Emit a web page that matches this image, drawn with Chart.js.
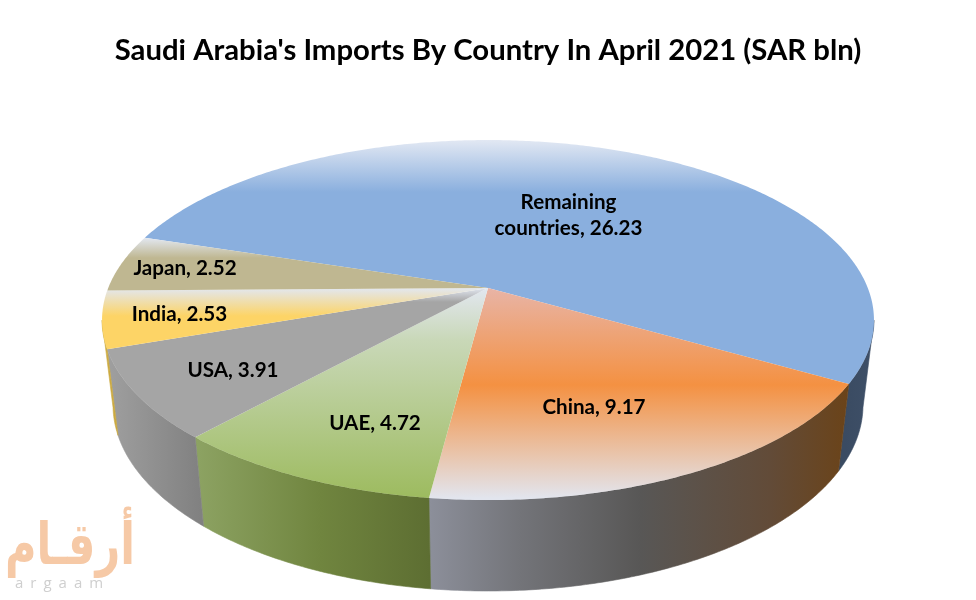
<!DOCTYPE html>
<html>
<head>
<meta charset="utf-8">
<style>html,body{margin:0;padding:0;background:#fff}canvas{display:block}</style>
<script src="https://cdn.jsdelivr.net/npm/chart.js@4"></script>
</head>
<body>
<canvas id="c" width="976" height="600"></canvas>
<script>
const titleText = "Saudi Arabia's Imports By Country In April 2021 (SAR bln)";
const categories = ["Remaining countries", "China", "UAE", "USA", "India", "Japan"];
const values = [26.23, 9.17, 4.72, 3.91, 2.53, 2.52];
const sliceColors = ["#8AAFDE", "#F49142", "#9DBB5F", "#A5A5A5", "#FDD466", "#BFB791"];

// Label placement (centre of each text block, px)
const labelLines = [["Remaining", "countries, 26.23"], ["China, 9.17"], ["UAE, 4.72"], ["USA, 3.91"], ["India, 2.53"], ["Japan, 2.52"]];
const labelCentres = [[568.5, 215], [594, 407], [375, 423], [233, 370], [179.5, 314], [185, 268]];

// Face gradients: [y px, colour]; null colour = slice colour
const faceStops = [
  [[140, "#E2E8F3"], [192, null], [383, null]],
  [[288, "#E8B4A6"], [385, null], [498, "#E2E5EE"]],
  [[288, "#E2E7F0"], [340, "#C9D8B8"], [498, null]],
  [[288, "#E2E7F0"], [302, null], [438, null]],
  [[288, "#E2E7F0"], [316, null], [349, null]],
  [[238, "#E2E7F0"], [258, null], [290, null]]
];
// Wall gradients: [x px, colour]
const wallStops = [
  [[845, "#3A4B62"], [875, "#3F5068"]],
  [[430, "#8C8F9A"], [520, "#737479"], [640, "#585756"], [770, "#624B38"], [850, "#6B4318"]],
  [[195, "#8DA363"], [320, "#70853F"], [430, "#5D6E32"]],
  [[105, "#A0A0A0"], [200, "#818181"]],
  [[100, "#CFAE45"], [120, "#C9A73E"]],
  [[100, "#8F896C"], [150, "#8F896C"]]
];

// Projection of the flat pie onto the tilted disc
const APEX_X = 488, APEX_Y = 288, K = -0.178, PB = 174.3, PA = 379.8;
const TOP_RX = 386, LOW_RX = 375, LOW_CY = 405, LOW_RY = 186;
function project(theta) {
  const u = Math.cos(theta), v = Math.sin(theta), w = 1 + K * v;
  return [APEX_X + PA * u / w, APEX_Y + PB * v / w];
}
function projectLow(theta) {
  const p = project(theta);
  const n = Math.max(-1, Math.min(1, (p[0] - APEX_X) / TOP_RX));
  return [APEX_X + LOW_RX * n, LOW_CY + LOW_RY * Math.sqrt(1 - n * n)];
}
const WALL_A = 10.3 * Math.PI / 180, WALL_B = 169.7 * Math.PI / 180;

function samples(a, b) {
  const n = Math.max(2, Math.ceil((b - a) / 0.01)), out = [];
  for (let i = 0; i <= n; i++) out.push(a + (b - a) * i / n);
  return out;
}
function norm(a) {
  const t = Math.PI * 2;
  return ((a % t) + t) % t;
}

const pie3d = {
  id: "pie3d",
  beforeDatasetsDraw(chart) {
    const ctx = chart.ctx, arcs = chart.getDatasetMeta(0).data, T = Math.PI * 2;
    ctx.save();
    // walls
    arcs.forEach((arc, i) => {
      const a0 = arc.startAngle, len = arc.endAngle - arc.startAngle;
      const start = norm(a0);
      [0, T].forEach(off => {
        const lo = Math.max(start - off, WALL_A), hi = Math.min(start - off + len, WALL_B);
        if (hi <= lo) return;
        const g = ctx.createLinearGradient(100, 0, 880, 0);
        wallStops[i].forEach(s => g.addColorStop((s[0] - 100) / 780, s[1]));
        ctx.fillStyle = g;
        ctx.strokeStyle = g;
        ctx.lineWidth = 0.6;
        ctx.beginPath();
        samples(lo, hi).forEach((t, k) => { const p = project(t); k ? ctx.lineTo(p[0], p[1]) : ctx.moveTo(p[0], p[1]); });
        samples(lo, hi).reverse().forEach(t => { const p = projectLow(t); ctx.lineTo(p[0], p[1]); });
        ctx.closePath();
        ctx.fill();
        ctx.stroke();
      });
    });
    // top faces
    arcs.forEach((arc, i) => {
      const g = ctx.createLinearGradient(0, 130, 0, 510);
      faceStops[i].forEach(s => g.addColorStop((s[0] - 130) / 380, s[1] || arc.options.backgroundColor));
      ctx.fillStyle = g;
      ctx.beginPath();
      ctx.moveTo(APEX_X, APEX_Y);
      samples(arc.startAngle, arc.endAngle).forEach(t => { const p = project(t); ctx.lineTo(p[0], p[1]); });
      ctx.closePath();
      ctx.fill();
    });
    ctx.restore();
    return false;
  },
  afterDraw(chart) {
    const ctx = chart.ctx;
    ctx.save();
    ctx.fillStyle = "#000";
    ctx.font = "bold 20.6px Lato";
    ctx.textAlign = "center";
    ctx.textBaseline = "middle";
    labelLines.forEach((lines, i) => {
      const c = labelCentres[i], lh = 26;
      lines.forEach((s, k) => ctx.fillText(s, c[0], c[1] + (k - (lines.length - 1) / 2) * lh));
    });
    // watermark
    ctx.fillStyle = "#F6C9A6";
    ctx.font = "bold 58px 'DejaVu Sans'";
    ctx.direction = "rtl";
    ctx.textAlign = "right";
    ctx.textBaseline = "alphabetic";
    ctx.fillText("أرقـام", 135, 564, 130);
    ctx.direction = "ltr";
    ctx.fillStyle = "#CFCFCF";
    ctx.font = "15px 'Open Sans'";
    ctx.textAlign = "left";
    ctx.letterSpacing = "7px";
    ctx.fillText("argaam", 15, 588);
    ctx.restore();
  }
};

new Chart(document.getElementById("c"), {
  type: "pie",
  data: {
    labels: categories,
    datasets: [{ data: values, backgroundColor: sliceColors, borderWidth: 0 }]
  },
  plugins: [pie3d],
  options: {
    responsive: false,
    animation: false,
    rotation: 287.7,
    layout: { padding: 0 },
    plugins: {
      legend: { display: false },
      tooltip: { enabled: false },
      title: {
        display: true,
        text: titleText,
        color: "#000",
        font: { family: "Lato", size: 29.3, weight: "bold" },
        padding: { top: 33, bottom: 20 }
      }
    }
  }
});
</script>
</body>
</html>
